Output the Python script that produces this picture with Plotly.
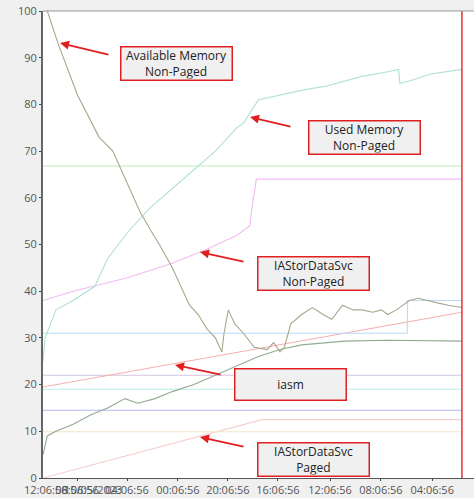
import plotly.graph_objects as go

# x in percent of time span, y in percent
avail_x = [1, 3.5, 8, 13, 16.2, 20, 22.5, 25, 27, 30, 32.5, 34, 36, 38, 40, 41.5, 42, 43, 44.5, 46.5, 49, 52, 53.5, 55, 56, 57.5, 60, 62.5, 65, 67, 69.5, 72, 74, 76.5, 78.5, 80, 82, 85, 87, 89, 91.5, 94, 97.2]
avail_y = [100, 93, 82, 73, 70, 62, 57, 53, 50, 45, 40, 37, 35, 32, 30, 27, 31, 36, 33, 31, 28, 27.5, 29, 27, 28, 33, 35, 36.5, 35, 34, 37, 36, 36, 35.5, 36, 35, 36, 38, 38.5, 38, 37.5, 37, 36.5]
used_x = [0, 0.5, 3, 7, 12, 15, 20, 25, 30, 35, 40, 45, 46.5, 50, 55, 60, 66, 70, 74, 80, 82.5, 82.8, 85, 90, 97.2]
used_y = [25, 30, 36, 38, 41, 47, 53, 58, 62, 66, 70, 75, 76, 81, 82, 83, 84, 85, 86, 87, 87.5, 84.5, 85, 86.5, 87.5]
green_flat_x = [0, 97.2]
green_flat_y = [66.8, 66.8]
pink_x = [0, 7, 20, 30, 38, 45, 48, 48.5, 49.5, 97.2]
pink_y = [38, 40, 43, 46, 49, 52, 54, 58, 64, 64]
blue_x = [0, 84.5, 84.6, 97.2]
blue_y = [31, 31, 38, 38]
salmon_x = [0, 97.2]
salmon_y = [19.5, 35.5]
dgreen_x = [0, 1, 3, 7, 11, 15, 19, 22, 26, 30, 35, 40, 45, 50, 55, 60, 70, 80, 97.2]
dgreen_y = [5, 9, 10, 11.5, 13.5, 15, 17, 16, 17, 18.5, 20, 22, 24, 26, 27.5, 28.5, 29.3, 29.5, 29.3]
flats = [(22, "#d0c4e0"), (19, "#b8ecec"), (14.5, "#b4b4f0"), (9.9, "#f2e6c4")]
lpink_x = [0, 50.8, 97.2]
lpink_y = [0, 12.5, 12.5]

tick_vals = [7.9, 19.5, 31.3, 42.9, 54.5, 66.6, 78.4, 90.3]
tick_text = ["08:06:56", "04:06:56", "00:06:56", "20:06:56", "16:06:56", "12:06:56", "08:06:56", "04:06:56"]

fig = go.Figure()
def line(x, y, c, w=1.1):
    fig.add_trace(go.Scatter(x=x, y=y, mode="lines", line=dict(color=c, width=w), hoverinfo="skip"))

line(lpink_x, lpink_y, "#f6d0d0")
for v, c in flats:
    line([0, 97.2], [v, v], c)
line(salmon_x, salmon_y, "#f4b0b0")
line(blue_x, blue_y, "#b8dcf6")
line(green_flat_x, green_flat_y, "#bcf0b4")
line(pink_x, pink_y, "#f2bcf2")
line(dgreen_x, dgreen_y, "#90ac90")
line(used_x, used_y, "#b0e0d4")
line(avail_x, avail_y, "#aaa68c")
fig.add_shape(type="line", x0=97.2, x1=97.2, y0=0, y1=1, yref="paper", line=dict(color="#e83030", width=1.5))

def px2x(p): return (p - 43) / 431 * 100
def px2y(p): return (478 - p) / 4.67

boxes = [("Available Memory<br>Non-Paged", 176, 63, 110, 55, 60, 43),
         ("Used Memory<br>Non-Paged", 364, 137, 292, 127, 250, 117),
         ("IAStorDataSvc<br>Non-Paged", 313, 273, 245, 262, 200, 252),
         ("iasm", 290, 384, 222, 375, 175, 365),
         ("IAStorDataSvc<br>Paged", 313, 459, 245, 447, 200, 437)]
for t, cx, cy, sx, sy, ex, ey in boxes:
    fig.add_annotation(x=px2x(cx), y=px2y(cy), text=t, showarrow=False, bgcolor="#f0f0f0",
                       bordercolor="#e02020", borderwidth=1.5, width=108, height=30 if "<br>" in t else 28,
                       font=dict(size=12, color="#222", family="Open Sans"))
    fig.add_annotation(x=px2x(ex), y=px2y(ey), ax=px2x(sx), ay=px2y(sy), axref="x", ayref="y",
                       text="", showarrow=True, arrowhead=2, arrowsize=1, arrowwidth=1.8, arrowcolor="#e02020")

fig.add_annotation(x=(22 - 43) / 431, xref="paper", y=-0.005, yref="paper", yanchor="top", text="12:06:56",
                   showarrow=False, font=dict(size=11, color="#555", family="Open Sans"))
fig.add_annotation(x=(62 - 43) / 431, xref="paper", y=-0.005, yref="paper", yanchor="top", text="15/05/2023",
                   showarrow=False, font=dict(size=11, color="#555", family="Open Sans"))

fig.update_layout(width=474, height=498, margin=dict(l=43, r=0, t=11, b=20), showlegend=False,
                  paper_bgcolor="#f0f0f0", plot_bgcolor="white",
                  xaxis=dict(range=[0, 100], tickvals=tick_vals, ticktext=tick_text, showgrid=False, zeroline=False,
                             tickfont=dict(size=11, color="#555", family="Open Sans"), ticks="outside", ticklen=2,
                             showline=True, linecolor="#555", linewidth=1),
                  yaxis=dict(range=[0, 100], dtick=10, showgrid=False, zeroline=False,
                             tickfont=dict(size=11, color="#555", family="Open Sans"), ticks="outside", ticklen=2,
                             showline=True, linecolor="#666", linewidth=2, mirror=False))
fig.add_shape(type="line", x0=0, x1=1, xref="paper", y0=1, y1=1, yref="paper", line=dict(color="#999", width=1))
fig.write_html("out.html", config={"displayModeBar": False},
               post_script="document.body.style.margin='0';document.body.style.overflow='hidden';")
